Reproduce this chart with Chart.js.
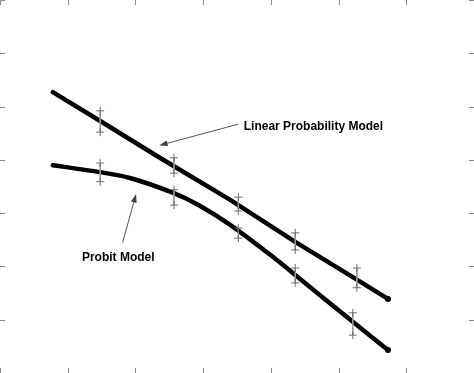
<!DOCTYPE html>
<html>
<head>
<meta charset="utf-8">
<script src="https://cdn.jsdelivr.net/npm/chart.js@4.4.1/dist/chart.umd.min.js"></script>
<style>
  html, body { margin: 0; padding: 0; background: #fff; }
  #wrap { width: 474px; height: 373px; }
</style>
</head>
<body>
<div id="wrap"><canvas id="chart" width="474" height="373"></canvas></div>
<script>
// axis ticks (both axes run 0..7, ticks drawn inward)
const xTicks = [0, 1, 2, 3, 4, 5, 6, 7];
const yTicks = [0, 1, 2, 3, 4, 5, 6, 7];

// fitted curves
const linearX = [0.78, 1.48, 2.36, 3.40, 4.36, 5.21, 5.73];
const linearY = [5.27, 4.73, 4.04, 3.25, 2.46, 1.80, 1.39];
const probitX = [0.78, 1.48, 1.92, 2.56, 2.95, 3.40, 4.03, 4.36, 5.21, 5.73];
const probitY = [3.90, 3.77, 3.66, 3.38, 3.14, 2.78, 2.18, 1.84, 0.96, 0.43];

// observed pairs (+ marks), upper group near linear line, lower group near probit
const obsUpperX = [1.48, 2.57, 3.52, 4.36, 5.27];
const obsUpperTop = [4.92, 4.04, 3.30, 2.63, 1.97];
const obsUpperBot = [4.52, 3.75, 3.04, 2.31, 1.60];
const obsLowerX = [1.48, 2.57, 3.52, 4.36, 5.21];
const obsLowerTop = [3.94, 3.44, 2.72, 1.97, 1.13];
const obsLowerBot = [3.59, 3.15, 2.53, 1.69, 0.71];

const labelLinear = 'Linear Probability Model';
const labelProbit = 'Probit Model';

function toPoints(xs, ys) {
    return xs.map((x, i) => ({ x: x, y: ys[i] }));
}

// pairs joined by a thin vertical line, separated by nulls
function pairPoints(xs, tops, bots) {
    const out = [];
    xs.forEach((x, i) => {
        out.push({ x: x, y: tops[i] });
        out.push({ x: x, y: bots[i] });
        out.push({ x: x, y: null });
    });
    return out;
}

// draw inward tick marks on all four sides
const innerTicks = {
    id: 'innerTicks',
    afterDraw(chart) {
        const { ctx, chartArea: a, scales: { x, y } } = chart;
        ctx.save();
        ctx.strokeStyle = '#8a8a8a';
        ctx.lineWidth = 1;
        ctx.beginPath();
        xTicks.forEach(v => {
            const px = Math.round(x.getPixelForValue(v)) + 0.5;
            ctx.moveTo(px, a.top); ctx.lineTo(px, a.top + 5);
            ctx.moveTo(px, a.bottom); ctx.lineTo(px, a.bottom - 5);
        });
        yTicks.forEach(v => {
            const py = Math.round(y.getPixelForValue(v)) + 0.5;
            ctx.moveTo(a.left, py); ctx.lineTo(a.left + 5, py);
            ctx.moveTo(a.right, py); ctx.lineTo(a.right - 5, py);
        });
        ctx.stroke();
        ctx.restore();
    }
};

function arrow(ctx, x0, y0, x1, y1) {
    const ang = Math.atan2(y1 - y0, x1 - x0);
    const len = 9, half = 0.33;
    ctx.beginPath();
    ctx.moveTo(x0, y0);
    ctx.lineTo(x1 - Math.cos(ang) * len * 0.8, y1 - Math.sin(ang) * len * 0.8);
    ctx.stroke();
    ctx.beginPath();
    ctx.moveTo(x1, y1);
    ctx.lineTo(x1 - len * Math.cos(ang - half), y1 - len * Math.sin(ang - half));
    ctx.lineTo(x1 - len * Math.cos(ang + half), y1 - len * Math.sin(ang + half));
    ctx.closePath();
    ctx.fill();
}

// text labels and arrows
const notes = {
    id: 'notes',
    afterDraw(chart) {
        const { ctx, scales: { x, y } } = chart;
        ctx.save();
        ctx.fillStyle = '#000';
        ctx.strokeStyle = '#555';
        ctx.lineWidth = 1;
        ctx.font = 'bold 12px "Liberation Sans", Arial, sans-serif';
        ctx.textBaseline = 'middle';
        ctx.textAlign = 'left';
        ctx.fillText(labelLinear, x.getPixelForValue(3.60), y.getPixelForValue(4.62));
        ctx.fillText(labelProbit, x.getPixelForValue(1.21), y.getPixelForValue(2.16));
        ctx.fillStyle = '#444';
        arrow(ctx, x.getPixelForValue(3.52), y.getPixelForValue(4.67),
                   x.getPixelForValue(2.35), y.getPixelForValue(4.27));
        arrow(ctx, x.getPixelForValue(1.81), y.getPixelForValue(2.45),
                   x.getPixelForValue(2.01), y.getPixelForValue(3.36));
        ctx.restore();
    }
};

const obsStyle = {
    borderColor: '#9a9a9a',
    backgroundColor: '#9a9a9a',
    borderWidth: 1,
    pointStyle: 'cross',
    pointRadius: 4,
    pointBorderColor: '#6f6f6f',
    pointBorderWidth: 1,
    showLine: true,
    spanGaps: false
};

const curveStyle = {
    borderColor: '#000',
    backgroundColor: '#000',
    borderWidth: 4.5,
    borderCapStyle: 'round',
    borderJoinStyle: 'round',
    pointRadius: 0,
    showLine: true
};

new Chart(document.getElementById('chart'), {
    type: 'scatter',
    data: {
        datasets: [
            Object.assign({ label: 'obs upper', data: pairPoints(obsUpperX, obsUpperTop, obsUpperBot) }, obsStyle),
            Object.assign({ label: 'obs lower', data: pairPoints(obsLowerX, obsLowerTop, obsLowerBot) }, obsStyle),
            Object.assign({ label: labelLinear, data: toPoints(linearX, linearY), tension: 0 }, curveStyle),
            Object.assign({ label: labelProbit, data: toPoints(probitX, probitY), tension: 0.2 }, curveStyle),
            // end dots
            { label: 'ends', data: [{ x: linearX[linearX.length - 1], y: linearY[linearY.length - 1] },
                                    { x: probitX[probitX.length - 1], y: probitY[probitY.length - 1] }],
              showLine: false, pointRadius: 3, backgroundColor: '#000', borderWidth: 0 }
        ]
    },
    options: {
        responsive: false,
        animation: false,
        layout: { padding: 0, autoPadding: false },
        scales: {
            x: { type: 'linear', min: 0, max: 7, display: false },
            y: { type: 'linear', min: 0, max: 7, display: false }
        },
        plugins: {
            legend: { display: false },
            tooltip: { enabled: false }
        }
    },
    plugins: [innerTicks, notes]
});
</script>
</body>
</html>
